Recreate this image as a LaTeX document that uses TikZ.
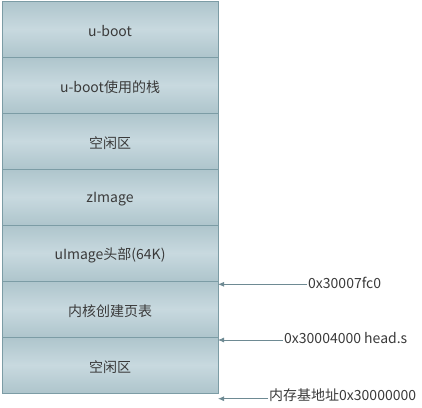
\documentclass[tikz,border=0pt]{standalone}
\usepackage{fontspec}
\setmainfont{Noto Sans CJK SC}
\usetikzlibrary{arrows.meta}
\definecolor{boxedge}{HTML}{7C9CA5}
\definecolor{boxdark}{HTML}{AEC5CC}
\definecolor{boxlight}{HTML}{C8D9DF}
\definecolor{txt}{HTML}{3A3A3A}
\definecolor{arr}{HTML}{6E8A93}
\tikzset{
  mem/.style={draw=boxedge, line width=0.8pt, top color=boxdark, bottom color=boxdark, middle color=boxlight,
    minimum width=216pt, minimum height=56pt, inner sep=0pt, outer sep=0pt, anchor=north west},
  memtext/.style={text=txt, inner sep=0pt},
  lab/.style={text=txt, inner sep=1pt, anchor=west},
  ptr/.style={draw=arr, line width=0.8pt, -{Latex[length=6pt,width=5pt]}}
}
\begin{document}
\begin{tikzpicture}[x=1pt,y=-1pt, font=\fontsize{14}{16}\selectfont]
\useasboundingbox (0,0) rectangle (422,407);
\node[mem] (b1) at (2,1) {};
\node[mem] (b2) at (2,57) {};
\node[mem] (b3) at (2,113) {};
\node[mem] (b4) at (2,169) {};
\node[mem] (b5) at (2,225) {};
\node[mem] (b6) at (2,281) {};
\node[mem] (b7) at (2,337) {};
\node[memtext] (t1) at ([yshift=-2pt]b1.center) {u-boot};
\node[memtext] (t2) at ([yshift=-2pt]b2.center) {u-boot使用的栈};
\node[memtext] (t3) at ([yshift=-2pt]b3.center) {空闲区};
\node[memtext] (t4) at ([yshift=-2pt]b4.center) {zImage};
\node[memtext] (t5) at ([yshift=-2pt]b5.center) {uImage头部(64K)};
\node[memtext] (t6) at ([yshift=-2pt]b6.center) {内核创建页表};
\node[memtext] (t7) at ([yshift=-2pt]b7.center) {空闲区};
\node[lab] (l1) at (307,283) {0x30007fc0};
\node[lab] (l2) at (283,338) {0x30004000 head.s};
\node[lab] (l3) at (268,395.5) {内存基地址0x30000000};
\draw[ptr] ([yshift=-1.3pt]l1.west) -- ([yshift=-1.3pt]l1.west -| b5.east);
\draw[ptr] ([yshift=-2pt]l2.west) -- ([yshift=-2pt]l2.west -| b6.east);
\draw[ptr] ([yshift=-3.2pt]l3.west) -- ([yshift=-3.2pt]l3.west -| b7.east);
\end{tikzpicture}
\end{document}
